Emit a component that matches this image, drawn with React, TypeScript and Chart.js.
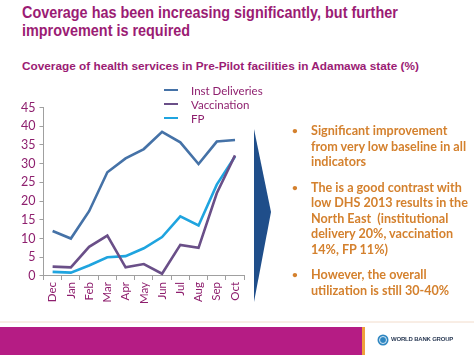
import React, { useEffect, useRef } from "react";
import { Chart, registerables } from "chart.js";

Chart.register(...registerables);

const months = ["Dec", "Jan", "Feb", "Mar", "Apr", "May", "Jun", "Jul", "Aug", "Sep", "Oct"];
const instDeliveries = [12.0, 10.0, 17.3, 27.7, 31.4, 33.9, 38.5, 35.7, 29.9, 35.9, 36.3];
const vaccination = [2.5, 2.3, 7.8, 10.8, 2.3, 3.2, 0.6, 8.3, 7.5, 22.1, 32.2];
const fp = [1.1, 0.9, 2.8, 5.0, 5.3, 7.4, 10.4, 15.9, 13.5, 24.4, 31.9];
const seriesNames = ["Inst Deliveries", "Vaccination", "FP"];
const seriesColors = ["#4572A7", "#6A4F88", "#1FA4DF"];

const titleLines = ["Coverage has been increasing significantly, but further", "improvement is required"];
const subtitle = "Coverage of health services in Pre-Pilot facilities in Adamawa state (%)";
const bullets = [
  ["Significant improvement", "from very low baseline in all", "indicators"],
  ["The is a good contrast with", "low DHS 2013 results in the", "North East  (institutional", "delivery 20%, vaccination", "14%, FP 11%)"],
  ["However, the overall", "utilization is still 30-40%"],
];

const purple = "#8E1F6E";

export default function App() {
  const ref = useRef<HTMLCanvasElement>(null);
  useEffect(() => {
    if (!ref.current) return;
    const chart = new Chart(ref.current, {
      type: "line",
      data: {
        labels: months,
        datasets: [instDeliveries, vaccination, fp].map((d, i) => ({
          label: seriesNames[i],
          data: d,
          borderColor: seriesColors[i],
          backgroundColor: seriesColors[i],
          borderWidth: 2.6,
          pointRadius: 0,
          tension: 0,
        })),
      },
      options: {
        animation: false,
        responsive: false,
        maintainAspectRatio: false,
        layout: { padding: { top: 4, right: 4, left: 0, bottom: 0 } },
        plugins: { legend: { display: false }, tooltip: { enabled: false } },
        scales: {
          x: {
            offset: true,
            grid: { display: true, drawOnChartArea: false, drawTicks: true, tickLength: 4, color: "#A0A0A0", offset: true },
            border: { display: true, color: "#A0A0A0", width: 1 },
            ticks: {
              color: purple,
              font: { family: "Lato", size: 11.5 },
              maxRotation: 90,
              minRotation: 90,
              autoSkip: false,
              padding: 2,
            },
          },
          y: {
            min: 0,
            max: 45,
            grid: { display: true, drawOnChartArea: false, drawTicks: true, tickLength: 4, color: "#A0A0A0" },
            border: { display: true, color: "#A0A0A0", width: 1 },
            ticks: {
              stepSize: 5,
              color: purple,
              font: { family: "Lato", size: 12.5 },
              padding: 4,
            },
          },
        },
      },
    });
    return () => chart.destroy();
  }, []);

  return (
    <div style={{ position: "fixed", left: 0, top: 0, width: 474, height: 355, background: "#fff", overflow: "hidden", fontFamily: "Lato" }}>
      <div style={{ position: "absolute", left: 22, top: 4, fontFamily: "'Liberation Sans', Arial", fontWeight: "bold", fontSize: 16, lineHeight: "18px", color: "#9B1C74", whiteSpace: "nowrap", transform: "scaleX(0.9)", transformOrigin: "0 0" }}>
        {titleLines.map((l, i) => (<div key={i}>{l}</div>))}
      </div>
      <div style={{ position: "absolute", left: 22, top: 59, fontFamily: "'Liberation Sans', Arial", fontWeight: "bold", fontSize: 11.8, color: "#9B1C74", whiteSpace: "nowrap" }}>
        {subtitle}
      </div>
      <canvas ref={ref} width={234} height={210} style={{ position: "absolute", left: 17, top: 96, width: 234, height: 210 }} />
      {seriesNames.map((n, i) => (
        <div key={n} style={{ position: "absolute", left: 164, top: 83 + i * 14, height: 14, display: "flex", alignItems: "center", whiteSpace: "nowrap" }}>
          <div style={{ width: 14, height: 2.6, background: seriesColors[i], marginRight: 13 }} />
          <span style={{ fontSize: 11.5, color: purple }}>{n}</span>
        </div>
      ))}
      <svg style={{ position: "absolute", left: 0, top: 0 }} width={474} height={355}>
        <polygon points="254,129 271,212 254,302" fill="#1F4E8A" />
        <line x1={0} y1={322} x2={474} y2={322} stroke="#F2DCCB" strokeWidth={1} />
        <rect x={0} y={327} width={362} height={28} fill="#B51C84" />
        <rect x={362} y={327} width={3} height={28} fill="#F0A03C" />
        <circle cx={383} cy={340} r={5.5} fill="#2E86C1" />
        <circle cx={383} cy={340} r={3.5} fill="none" stroke="#fff" strokeWidth={0.8} />
      </svg>
      <div style={{ position: "absolute", left: 391, top: 336, fontFamily: "'Liberation Sans', Arial", fontWeight: "bold", fontSize: 6, color: "#2B3B55", whiteSpace: "nowrap", letterSpacing: -0.2 }}>
        WORLD BANK GROUP
      </div>
      <div style={{ position: "absolute", left: 292, top: 123, width: 180, color: "#D4812E", fontWeight: "bold", fontSize: 12.6, lineHeight: "15.5px" }}>
        {bullets.map((b, i) => (
          <div key={i} style={{ position: "relative", paddingLeft: 19, marginBottom: 10 }}>
            <span style={{ position: "absolute", left: 0, top: 0, fontSize: 10 }}>•</span>
            {b.map((l, j) => (
              <div key={j} style={{ whiteSpace: "pre" }}>{l}</div>
            ))}
          </div>
        ))}
      </div>
    </div>
  );
}
